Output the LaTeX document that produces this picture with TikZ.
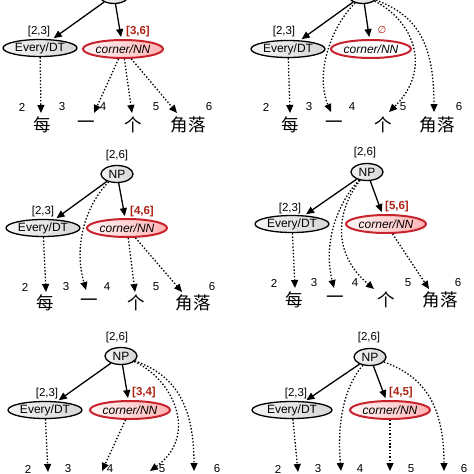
\documentclass[tikz,border=0pt]{standalone}
\usepackage{fontspec}
\setmainfont{Liberation Sans}
\newfontfamily\cjk{Noto Sans CJK SC}
\newfontfamily\dejavu{DejaVu Sans}
\usetikzlibrary{shapes.geometric,arrows.meta}
\definecolor{bordred}{RGB}{200,35,45}
\definecolor{labred}{RGB}{170,35,20}
\tikzset{
  nd/.style={ellipse, draw, line width=1.3pt, inner sep=0pt, font=\fontsize{12}{14}\selectfont},
  gnode/.style={nd, left color=gray!8, right color=gray!32, minimum width=74pt, minimum height=17pt},
  rbase/.style={nd, draw=bordred, line width=2pt, minimum width=80pt, minimum height=18pt, font=\fontsize{12}{14}\selectfont\itshape},
  rnode/.style={rbase, left color=red!3, right color=red!30},
  rnodew/.style={rbase, fill=white},
  lab/.style={inner sep=0pt, font=\fontsize{11.5}{13}\selectfont},
  rlab/.style={lab, text=labred, font=\fontsize{11.5}{13}\selectfont\bfseries},
  num/.style={inner sep=0pt, font=\fontsize{11.5}{13}\selectfont},
  zh/.style={inner sep=0pt, font=\cjk\fontsize{17.5}{18}\selectfont},
  sarr/.style={draw, line width=1.3pt, -{Triangle[length=8pt,width=7pt]}, shorten >=2pt},
  darr/.style={draw, line width=1.3pt, dash pattern=on 1.4pt off 1.9pt, -{Triangle[length=8pt,width=7pt]}}
}
\begin{document}
\begin{tikzpicture}[x=1pt,y=-1pt]
\clip (0,0) rectangle (474,474);
\fill[white] (0,0) rectangle (474,474);
% ---------- Panel 1 ----------
\node[gnode, minimum width=30pt] (n1) at (114,-5) {};
\node[gnode] (e1) at (40,48) {Every/DT};
\node[rnode] (c1) at (123,49) {corner/NN};
\node[lab] (l1a) at (39,32) {[2,3]};
\node[rlab] (l1b) at (138,32) {[3,6]};
\node[num] (k1a) at (22,107) {2};
\node[num] (k1b) at (62,107) {3};
\node[num] (k1c) at (103,107) {4};
\node[num] (k1d) at (156,107) {5};
\node[num] (k1e) at (209,107) {6};
\node[zh] (z1a) at (42,125) {每};
\node[zh] (z1b) at (86,125) {一};
\node[zh] (z1c) at (133,125) {个};
\node[zh] (z1d) at (188,125) {角落};
\coordinate (t1a) at (41,113);
\coordinate (t1b) at (94,113);
\coordinate (t1c) at (132,113);
\coordinate (t1d) at (177,113);
\draw[sarr] (n1) -- (e1);
\draw[sarr] (n1) -- (c1);
\draw[darr] (e1) -- (t1a);
\draw[darr] (c1) -- (t1b);
\draw[darr] (c1) -- (t1c);
\draw[darr] (c1) -- (t1d);
% ---------- Panel 2 ----------
\node[gnode, minimum width=30pt] (n2) at (363,-5) {};
\node[gnode] (e2) at (288,49) {Every/DT};
\node[rnodew] (c2) at (371,49) {corner/NN};
\node[lab] (l2a) at (284,32) {[2,3]};
\node[inner sep=0pt, text=labred, font=\dejavu\fontsize{10}{10}\selectfont] (l2b) at (382,30) {∅};
\node[num] (k2a) at (266,107) {2};
\node[num] (k2b) at (309,107) {3};
\node[num] (k2c) at (352,107) {4};
\node[num] (k2d) at (403,107) {5};
\node[num] (k2e) at (459,107) {6};
\node[zh] (z2a) at (290,125) {每};
\node[zh] (z2b) at (334,125) {一};
\node[zh] (z2c) at (383,125) {个};
\node[zh] (z2d) at (437,125) {角落};
\coordinate (t2a) at (290,113);
\coordinate (t2b) at (331,112);
\coordinate (t2c) at (389,112);
\coordinate (t2d) at (434,112);
\draw[sarr] (n2) -- (e2);
\draw[sarr] (n2) -- (c2);
\draw[darr] (e2) -- (t2a);
\draw[darr] (n2) .. controls (330,28) and (315,75) .. (t2b);
\draw[darr] (n2) .. controls (415,22) and (432,70) .. (t2c);
\draw[darr] (n2) .. controls (415,15) and (434,40) .. (t2d);
% ---------- Panel 3 ----------
\node[gnode, minimum width=32pt] (n3) at (117,174) {NP};
\node[gnode] (e3) at (43,228) {Every/DT};
\node[rnode] (c3) at (127,228) {corner/NN};
\node[lab] (l3n) at (117,156) {[2,6]};
\node[lab] (l3a) at (43,212) {[2,3]};
\node[rlab] (l3b) at (142,212) {[4,6]};
\node[num] (k3a) at (25,287) {2};
\node[num] (k3b) at (66,287) {3};
\node[num] (k3c) at (107,287) {4};
\node[num] (k3d) at (156,287) {5};
\node[num] (k3e) at (212,287) {6};
\node[zh] (z3a) at (45,303) {每};
\node[zh] (z3b) at (89,303) {一};
\node[zh] (z3c) at (136,303) {个};
\node[zh] (z3d) at (193,303) {角落};
\coordinate (t3a) at (46,292);
\coordinate (t3b) at (86,290);
\coordinate (t3c) at (135,292);
\coordinate (t3d) at (182,292);
\draw[sarr] (n3) -- (e3);
\draw[sarr] (n3) -- (c3);
\draw[darr] (e3) -- (t3a);
\draw[darr] (n3) .. controls (90,200) and (72,240) .. (t3b);
\draw[darr] (c3) -- (t3c);
\draw[darr] (c3) -- (t3d);
% ---------- Panel 4 ----------
\node[gnode, minimum width=32pt] (n4) at (367,172) {NP};
\node[gnode] (e4) at (292,224) {Every/DT};
\node[rnode] (c4) at (386,224) {corner/NN};
\node[lab] (l4n) at (365,153) {[2,6]};
\node[lab] (l4a) at (290,209) {[2,3]};
\node[rlab] (l4b) at (397,207) {[5,6]};
\node[num] (k4a) at (274,283) {2};
\node[num] (k4b) at (314,283) {3};
\node[num] (k4c) at (355,283) {4};
\node[num] (k4d) at (408,283) {5};
\node[num] (k4e) at (458,283) {6};
\node[zh] (z4a) at (294,300) {每};
\node[zh] (z4b) at (335,300) {一};
\node[zh] (z4c) at (386,300) {个};
\node[zh] (z4d) at (440,300) {角落};
\coordinate (t4a) at (295,288);
\coordinate (t4b) at (334,288);
\coordinate (t4c) at (374,289);
\coordinate (t4d) at (429,289);
\draw[sarr] (n4) -- (e4);
\draw[sarr] (n4) -- (c4);
\draw[darr] (e4) -- (t4a);
\draw[darr] (n4) .. controls (340,200) and (322,240) .. (t4b);
\draw[darr] (n4) .. controls (340,205) and (328,250) .. (t4c);
\draw[darr] (c4) -- (t4d);
% ---------- Panel 5 ----------
\node[gnode, minimum width=32pt] (n5) at (121,356) {NP};
\node[gnode] (e5) at (45,410) {Every/DT};
\node[rnode] (c5) at (130,410) {corner/NN};
\node[lab] (l5n) at (117,338) {[2,6]};
\node[lab] (l5a) at (47,394) {[2,3]};
\node[rlab] (l5b) at (144,393) {[3,4]};
\node[num] (k5a) at (28,469) {2};
\node[num] (k5b) at (68,469) {3};
\node[num] (k5c) at (110,469) {4};
\node[num] (k5d) at (162,469) {5};
\node[num] (k5e) at (217,469) {6};
\coordinate (t5a) at (48,472);
\coordinate (t5b) at (102,471);
\coordinate (t5c) at (150,471);
\coordinate (t5d) at (194,471);
\draw[sarr] (n5) -- (e5);
\draw[sarr] (n5) -- (c5);
\draw[darr] (e5) -- (t5a);
\draw[darr] (c5) -- (t5b);
\draw[darr] (n5) .. controls (172,378) and (200,435) .. (t5c);
\draw[darr] (n5) .. controls (175,375) and (194,405) .. (t5d);
% ---------- Panel 6 ----------
\node[gnode, minimum width=32pt] (n6) at (370,357) {NP};
\node[gnode, minimum width=80pt] (e6) at (292,410) {Every/DT};
\node[rnode] (c6) at (390,410) {corner/NN};
\node[lab] (l6n) at (369,338) {[2,6]};
\node[lab] (l6a) at (296,394) {[2,3]};
\node[rlab] (l6b) at (401,393) {[4,5]};
\node[num] (k6a) at (278,469) {2};
\node[num] (k6b) at (318,469) {3};
\node[num] (k6c) at (360,469) {4};
\node[num] (k6d) at (411,469) {5};
\node[num] (k6e) at (464,469) {6};
\coordinate (t6a) at (298,472);
\coordinate (t6b) at (341,471);
\coordinate (t6c) at (390,471);
\coordinate (t6d) at (444,471);
\draw[sarr] (n6) -- (e6);
\draw[sarr] (n6) -- (c6);
\draw[darr] (e6) -- (t6a);
\draw[darr] (n6) .. controls (350,380) and (336,410) .. (t6b);
\draw[darr] (c6) -- (t6c);
\draw[darr] (n6) .. controls (420,375) and (444,400) .. (t6d);
\end{tikzpicture}
\end{document}
